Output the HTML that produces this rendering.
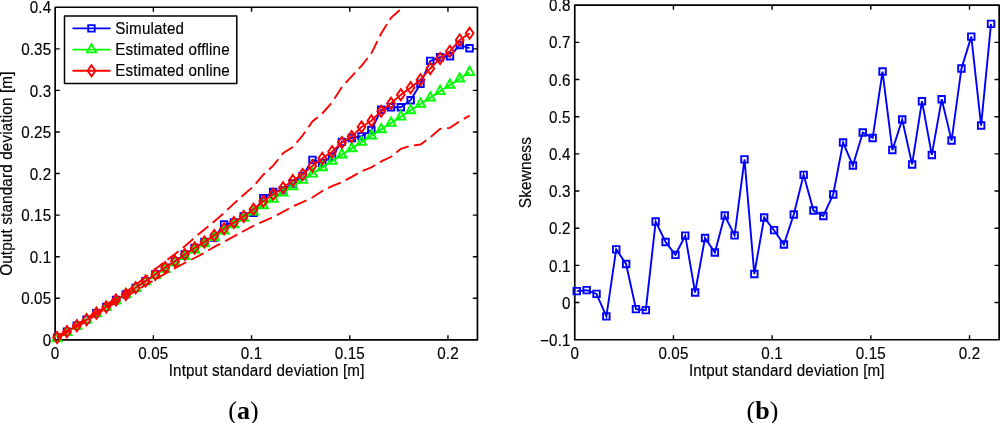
<!DOCTYPE html>
<html><head><meta charset="utf-8"><title>Figure</title>
<style>html,body{margin:0;padding:0;background:#fff}svg{display:block}</style></head>
<body>
<svg width="1000" height="423" viewBox="0 0 1000 423">
<rect width="1000" height="423" fill="#fff"/>
<defs><clipPath id="cl"><rect x="55.15" y="7.27" width="422.31" height="332.59"/></clipPath></defs>
<rect x="55.15" y="7.27" width="422.31" height="332.59" fill="none" stroke="#000" stroke-width="1.7" stroke-linejoin="round"/>
<path d="M153.35 339.86v-4.6M153.35 7.27v4.6M251.55 339.86v-4.6M251.55 7.27v4.6M349.75 339.86v-4.6M349.75 7.27v4.6M447.95 339.86v-4.6M447.95 7.27v4.6M55.15 298.29h4.6M477.46 298.29h-4.6M55.15 256.71h4.6M477.46 256.71h-4.6M55.15 215.14h4.6M477.46 215.14h-4.6M55.15 173.56h4.6M477.46 173.56h-4.6M55.15 131.99h4.6M477.46 131.99h-4.6M55.15 90.42h4.6M477.46 90.42h-4.6M55.15 48.84h4.6M477.46 48.84h-4.6" stroke="#000" stroke-width="1.4" fill="none"/>
<rect x="574.76" y="5.2" width="424.39" height="334.54" fill="none" stroke="#000" stroke-width="1.7" stroke-linejoin="round"/>
<path d="M673.45 339.74v-4.6M673.45 5.2v4.6M772.14 339.74v-4.6M772.14 5.2v4.6M870.83 339.74v-4.6M870.83 5.2v4.6M969.52 339.74v-4.6M969.52 5.2v4.6M574.76 302.57h4.6M999.15 302.57h-4.6M574.76 265.40h4.6M999.15 265.40h-4.6M574.76 228.23h4.6M999.15 228.23h-4.6M574.76 191.06h4.6M999.15 191.06h-4.6M574.76 153.89h4.6M999.15 153.89h-4.6M574.76 116.71h4.6M999.15 116.71h-4.6M574.76 79.54h4.6M999.15 79.54h-4.6M574.76 42.37h4.6M999.15 42.37h-4.6" stroke="#000" stroke-width="1.4" fill="none"/>
<g fill="none" stroke-width="1.9" stroke-linejoin="miter">
<path d="M57.1 337.6L66.9 331.7L76.8 325.7L86.6 319.7L96.4 313.2L106.2 306.9L116.0 300.0L125.9 294.4L135.7 287.8L145.5 281.1L155.3 274.5L165.1 267.6L175.0 261.3L184.8 254.6L194.6 248.0L204.4 241.9L214.2 237.4L224.1 224.6L233.9 222.6L243.7 216.4L253.5 212.8L263.3 198.2L273.2 191.9L283.0 190.2L292.8 183.6L302.6 175.9L312.4 159.8L322.3 163.0L332.1 156.4L341.9 141.8L351.7 138.0L361.5 136.3L371.4 130.1L381.2 109.8L391.0 107.3L400.8 107.3L410.6 100.2L420.5 83.8L430.3 60.9L440.1 57.3L449.9 56.2L459.7 45.0L469.6 48.2" stroke="#00f" clip-path="url(#cl)"/>
<path d="M53.9 334.4h6.5v6.5h-6.5zM63.7 328.4h6.5v6.5h-6.5zM73.5 322.4h6.5v6.5h-6.5zM83.3 316.4h6.5v6.5h-6.5zM93.1 309.9h6.5v6.5h-6.5zM103.0 303.6h6.5v6.5h-6.5zM112.8 296.8h6.5v6.5h-6.5zM122.6 291.1h6.5v6.5h-6.5zM132.4 284.6h6.5v6.5h-6.5zM142.2 277.9h6.5v6.5h-6.5zM152.1 271.2h6.5v6.5h-6.5zM161.9 264.4h6.5v6.5h-6.5zM171.7 258.1h6.5v6.5h-6.5zM181.5 251.3h6.5v6.5h-6.5zM191.3 244.8h6.5v6.5h-6.5zM201.2 238.7h6.5v6.5h-6.5zM211.0 234.2h6.5v6.5h-6.5zM220.8 221.3h6.5v6.5h-6.5zM230.6 219.3h6.5v6.5h-6.5zM240.4 213.2h6.5v6.5h-6.5zM250.3 209.6h6.5v6.5h-6.5zM260.1 194.9h6.5v6.5h-6.5zM269.9 188.7h6.5v6.5h-6.5zM279.7 186.9h6.5v6.5h-6.5zM289.5 180.3h6.5v6.5h-6.5zM299.4 172.7h6.5v6.5h-6.5zM309.2 156.6h6.5v6.5h-6.5zM319.0 159.8h6.5v6.5h-6.5zM328.8 153.2h6.5v6.5h-6.5zM338.6 138.6h6.5v6.5h-6.5zM348.5 134.8h6.5v6.5h-6.5zM358.3 133.1h6.5v6.5h-6.5zM368.1 126.8h6.5v6.5h-6.5zM377.9 106.5h6.5v6.5h-6.5zM387.7 104.0h6.5v6.5h-6.5zM397.6 104.0h6.5v6.5h-6.5zM407.4 97.0h6.5v6.5h-6.5zM417.2 80.5h6.5v6.5h-6.5zM427.0 57.6h6.5v6.5h-6.5zM436.8 54.0h6.5v6.5h-6.5zM446.7 53.0h6.5v6.5h-6.5zM456.5 41.8h6.5v6.5h-6.5zM466.3 45.0h6.5v6.5h-6.5z" stroke="#00f"/>
<path d="M57.1 338.6L66.9 332.3L76.8 325.9L86.6 319.6L96.4 313.2L106.2 306.9L116.0 300.6L125.9 294.2L135.7 287.9L145.5 281.5L155.3 275.2L165.1 268.9L175.0 262.5L184.8 256.2L194.6 249.8L204.4 243.5L214.2 237.2L224.1 230.8L233.9 224.5L243.7 218.1L253.5 211.8L263.3 205.5L273.2 199.1L283.0 192.8L292.8 186.4L302.6 180.1L312.4 173.8L322.3 167.4L332.1 161.1L341.9 154.7L351.7 148.4L361.5 142.1L371.4 135.7L381.2 129.4L391.0 123.0L400.8 116.7L410.6 110.4L420.5 104.0L430.3 97.7L440.1 91.3L449.9 85.0L459.7 78.7L469.6 72.3" stroke="#0f0" clip-path="url(#cl)"/>
<path d="M57.1 333.1l4.6 8.3h-9.2zM66.9 326.8l4.6 8.3h-9.2zM76.8 320.4l4.6 8.3h-9.2zM86.6 314.1l4.6 8.3h-9.2zM96.4 307.7l4.6 8.3h-9.2zM106.2 301.4l4.6 8.3h-9.2zM116.0 295.1l4.6 8.3h-9.2zM125.9 288.7l4.6 8.3h-9.2zM135.7 282.4l4.6 8.3h-9.2zM145.5 276.0l4.6 8.3h-9.2zM155.3 269.7l4.6 8.3h-9.2zM165.1 263.4l4.6 8.3h-9.2zM175.0 257.0l4.6 8.3h-9.2zM184.8 250.7l4.6 8.3h-9.2zM194.6 244.3l4.6 8.3h-9.2zM204.4 238.0l4.6 8.3h-9.2zM214.2 231.7l4.6 8.3h-9.2zM224.1 225.3l4.6 8.3h-9.2zM233.9 219.0l4.6 8.3h-9.2zM243.7 212.6l4.6 8.3h-9.2zM253.5 206.3l4.6 8.3h-9.2zM263.3 200.0l4.6 8.3h-9.2zM273.2 193.6l4.6 8.3h-9.2zM283.0 187.3l4.6 8.3h-9.2zM292.8 180.9l4.6 8.3h-9.2zM302.6 174.6l4.6 8.3h-9.2zM312.4 168.3l4.6 8.3h-9.2zM322.3 161.9l4.6 8.3h-9.2zM332.1 155.6l4.6 8.3h-9.2zM341.9 149.2l4.6 8.3h-9.2zM351.7 142.9l4.6 8.3h-9.2zM361.5 136.6l4.6 8.3h-9.2zM371.4 130.2l4.6 8.3h-9.2zM381.2 123.9l4.6 8.3h-9.2zM391.0 117.5l4.6 8.3h-9.2zM400.8 111.2l4.6 8.3h-9.2zM410.6 104.9l4.6 8.3h-9.2zM420.5 98.5l4.6 8.3h-9.2zM430.3 92.2l4.6 8.3h-9.2zM440.1 85.8l4.6 8.3h-9.2zM449.9 79.5l4.6 8.3h-9.2zM459.7 73.2l4.6 8.3h-9.2zM469.6 66.8l4.6 8.3h-9.2z" stroke="#0f0"/>
<path d="M57.1 337.6L66.9 331.7L76.8 325.7L86.6 319.7L96.4 313.2L106.2 306.9L116.0 300.0L125.9 294.4L135.7 287.8L145.5 281.1L155.3 274.5L165.1 267.6L175.0 261.3L184.8 254.6L194.6 248.0L204.4 241.9L214.2 235.4L224.1 228.8L233.9 222.6L243.7 216.4L253.5 209.2L263.3 201.2L273.2 194.2L283.0 187.7L292.8 180.6L302.6 174.4L312.4 165.9L322.3 158.3L332.1 151.7L341.9 142.5L351.7 136.6L361.5 127.0L371.4 120.7L381.2 111.3L391.0 103.2L400.8 94.7L410.6 87.7L420.5 79.8L430.3 68.5L440.1 58.4L449.9 51.3L459.7 39.9L469.6 33.2" stroke="#f00" clip-path="url(#cl)"/>
<path d="M57.1 332.0l3.9 5.6l-3.9 5.6l-3.9 -5.6zM66.9 326.1l3.9 5.6l-3.9 5.6l-3.9 -5.6zM76.8 320.1l3.9 5.6l-3.9 5.6l-3.9 -5.6zM86.6 314.1l3.9 5.6l-3.9 5.6l-3.9 -5.6zM96.4 307.6l3.9 5.6l-3.9 5.6l-3.9 -5.6zM106.2 301.3l3.9 5.6l-3.9 5.6l-3.9 -5.6zM116.0 294.4l3.9 5.6l-3.9 5.6l-3.9 -5.6zM125.9 288.8l3.9 5.6l-3.9 5.6l-3.9 -5.6zM135.7 282.2l3.9 5.6l-3.9 5.6l-3.9 -5.6zM145.5 275.5l3.9 5.6l-3.9 5.6l-3.9 -5.6zM155.3 268.9l3.9 5.6l-3.9 5.6l-3.9 -5.6zM165.1 262.0l3.9 5.6l-3.9 5.6l-3.9 -5.6zM175.0 255.7l3.9 5.6l-3.9 5.6l-3.9 -5.6zM184.8 249.0l3.9 5.6l-3.9 5.6l-3.9 -5.6zM194.6 242.4l3.9 5.6l-3.9 5.6l-3.9 -5.6zM204.4 236.3l3.9 5.6l-3.9 5.6l-3.9 -5.6zM214.2 229.8l3.9 5.6l-3.9 5.6l-3.9 -5.6zM224.1 223.2l3.9 5.6l-3.9 5.6l-3.9 -5.6zM233.9 217.0l3.9 5.6l-3.9 5.6l-3.9 -5.6zM243.7 210.8l3.9 5.6l-3.9 5.6l-3.9 -5.6zM253.5 203.6l3.9 5.6l-3.9 5.6l-3.9 -5.6zM263.3 195.6l3.9 5.6l-3.9 5.6l-3.9 -5.6zM273.2 188.6l3.9 5.6l-3.9 5.6l-3.9 -5.6zM283.0 182.1l3.9 5.6l-3.9 5.6l-3.9 -5.6zM292.8 175.0l3.9 5.6l-3.9 5.6l-3.9 -5.6zM302.6 168.8l3.9 5.6l-3.9 5.6l-3.9 -5.6zM312.4 160.3l3.9 5.6l-3.9 5.6l-3.9 -5.6zM322.3 152.7l3.9 5.6l-3.9 5.6l-3.9 -5.6zM332.1 146.1l3.9 5.6l-3.9 5.6l-3.9 -5.6zM341.9 136.9l3.9 5.6l-3.9 5.6l-3.9 -5.6zM351.7 131.0l3.9 5.6l-3.9 5.6l-3.9 -5.6zM361.5 121.4l3.9 5.6l-3.9 5.6l-3.9 -5.6zM371.4 115.1l3.9 5.6l-3.9 5.6l-3.9 -5.6zM381.2 105.7l3.9 5.6l-3.9 5.6l-3.9 -5.6zM391.0 97.6l3.9 5.6l-3.9 5.6l-3.9 -5.6zM400.8 89.1l3.9 5.6l-3.9 5.6l-3.9 -5.6zM410.6 82.1l3.9 5.6l-3.9 5.6l-3.9 -5.6zM420.5 74.2l3.9 5.6l-3.9 5.6l-3.9 -5.6zM430.3 62.9l3.9 5.6l-3.9 5.6l-3.9 -5.6zM440.1 52.8l3.9 5.6l-3.9 5.6l-3.9 -5.6zM449.9 45.7l3.9 5.6l-3.9 5.6l-3.9 -5.6zM459.7 34.3l3.9 5.6l-3.9 5.6l-3.9 -5.6zM469.6 27.6l3.9 5.6l-3.9 5.6l-3.9 -5.6z" stroke="#f00"/>
<path d="M57.1 336.6L66.9 330.6L76.8 324.5L86.6 318.3L96.4 311.7L106.2 305.1L116.0 297.9L125.9 291.9L135.7 284.8L145.5 277.1L155.3 269.2L165.1 261.4L175.0 254.0L184.8 246.2L194.6 237.6L204.4 229.4L214.2 221.5L224.1 212.8L233.9 203.6L243.7 194.8L253.5 186.3L263.3 174.7L273.2 165.7L283.0 153.3L292.8 147.0L302.6 135.5L312.4 121.5L322.3 113.5L332.1 102.3L341.9 87.0L351.7 76.3L361.5 65.8L371.4 53.3L381.2 33.5L391.0 17.8L400.8 9.0L410.6 -1.0" stroke="#f00" clip-path="url(#cl)" stroke-dasharray="13.89 5.54" stroke-dashoffset="-18.16"/>
<path d="M57.1 338.6L66.9 332.8L76.8 326.9L86.6 321.1L96.4 314.7L106.2 308.6L116.0 302.1L125.9 296.9L135.7 290.8L145.5 285.1L155.3 279.5L165.1 273.6L175.0 268.2L184.8 263.0L194.6 258.0L204.4 252.8L214.2 246.9L224.1 241.8L233.9 236.4L243.7 231.0L253.5 225.8L263.3 221.4L273.2 217.0L283.0 211.9L292.8 206.3L302.6 202.2L312.4 197.5L322.3 191.0L332.1 186.2L341.9 182.1L351.7 176.9L361.5 171.3L371.4 167.3L381.2 161.4L391.0 156.8L400.8 148.8L410.6 145.8L420.5 144.5L430.3 137.3L440.1 128.9L449.9 127.9L459.7 121.2L469.6 115.6" stroke="#f00" clip-path="url(#cl)" stroke-dasharray="13.83 5.51" stroke-dashoffset="-0.89"/>
<path d="M576.8 291.1L586.7 290.2L596.5 293.9L606.4 316.4L616.2 249.3L626.1 264.0L636.0 309.1L645.8 310.2L655.7 221.6L665.6 242.0L675.4 254.8L685.3 235.7L695.1 292.5L705.0 238.0L714.9 252.6L724.7 215.5L734.6 235.3L744.5 159.3L754.3 274.0L764.2 217.6L774.0 230.2L783.9 244.5L793.8 214.4L803.6 174.8L813.5 210.5L823.3 215.9L833.2 194.4L843.1 142.6L852.9 165.5L862.8 132.6L872.7 137.9L882.5 71.6L892.4 150.1L902.2 119.6L912.1 164.4L922.0 101.2L931.8 154.9L941.7 99.3L951.6 140.6L961.4 68.6L971.3 36.6L981.1 125.6L991.0 23.8" stroke="#00f"/>
<path d="M573.5 287.9h6.5v6.5h-6.5zM583.4 286.9h6.5v6.5h-6.5zM593.3 290.6h6.5v6.5h-6.5zM603.1 313.1h6.5v6.5h-6.5zM613.0 246.1h6.5v6.5h-6.5zM622.9 260.8h6.5v6.5h-6.5zM632.7 305.9h6.5v6.5h-6.5zM642.6 306.9h6.5v6.5h-6.5zM652.4 218.3h6.5v6.5h-6.5zM662.3 238.8h6.5v6.5h-6.5zM672.2 251.6h6.5v6.5h-6.5zM682.0 232.4h6.5v6.5h-6.5zM691.9 289.2h6.5v6.5h-6.5zM701.8 234.8h6.5v6.5h-6.5zM711.6 249.3h6.5v6.5h-6.5zM721.5 212.2h6.5v6.5h-6.5zM731.3 232.1h6.5v6.5h-6.5zM741.2 156.1h6.5v6.5h-6.5zM751.1 270.8h6.5v6.5h-6.5zM760.9 214.3h6.5v6.5h-6.5zM770.8 226.9h6.5v6.5h-6.5zM780.7 241.2h6.5v6.5h-6.5zM790.5 211.2h6.5v6.5h-6.5zM800.4 171.6h6.5v6.5h-6.5zM810.2 207.2h6.5v6.5h-6.5zM820.1 212.7h6.5v6.5h-6.5zM830.0 191.2h6.5v6.5h-6.5zM839.8 139.3h6.5v6.5h-6.5zM849.7 162.2h6.5v6.5h-6.5zM859.5 129.3h6.5v6.5h-6.5zM869.4 134.7h6.5v6.5h-6.5zM879.3 68.3h6.5v6.5h-6.5zM889.1 146.8h6.5v6.5h-6.5zM899.0 116.3h6.5v6.5h-6.5zM908.9 161.2h6.5v6.5h-6.5zM918.7 98.0h6.5v6.5h-6.5zM928.6 151.7h6.5v6.5h-6.5zM938.4 96.0h6.5v6.5h-6.5zM948.3 137.3h6.5v6.5h-6.5zM958.2 65.3h6.5v6.5h-6.5zM968.0 33.4h6.5v6.5h-6.5zM977.9 122.3h6.5v6.5h-6.5zM987.8 20.6h6.5v6.5h-6.5z" stroke="#00f"/>
</g>
<rect x="64.5" y="15.9" width="172.3" height="67.5" fill="#fff" stroke="#000" stroke-width="1.5" stroke-linejoin="round"/>
<path d="M72.5 28.4h38" stroke="#00f" stroke-width="1.9" fill="none"/>
<path d="M88.2 25.1h6.5v6.5h-6.5z" stroke="#00f" stroke-width="1.9" fill="none"/>
<path d="M72.5 49.6h38" stroke="#0f0" stroke-width="1.9" fill="none"/>
<path d="M91.5 44.1l4.6 8.3h-9.2z" stroke="#0f0" stroke-width="1.9" fill="none"/>
<path d="M72.5 70.8h38" stroke="#f00" stroke-width="1.9" fill="none"/>
<path d="M91.5 65.2l3.9 5.6l-3.9 5.6l-3.9 -5.6z" stroke="#f00" stroke-width="1.9" fill="none"/>
<g font-family="'Liberation Sans', Arial, Helvetica, sans-serif" font-size="15.2" letter-spacing="0.14" fill="#000" stroke="#000" stroke-width="0.15">
<text transform="translate(55.15 358.80) scale(1.0 1.07)" text-anchor="middle">0</text>
<text transform="translate(153.35 358.80) scale(1.0 1.07)" text-anchor="middle">0.05</text>
<text transform="translate(251.55 358.80) scale(1.0 1.07)" text-anchor="middle">0.1</text>
<text transform="translate(349.75 358.80) scale(1.0 1.07)" text-anchor="middle">0.15</text>
<text transform="translate(447.95 358.80) scale(1.0 1.07)" text-anchor="middle">0.2</text>
<text transform="translate(574.76 358.80) scale(1.0 1.07)" text-anchor="middle">0</text>
<text transform="translate(673.45 358.80) scale(1.0 1.07)" text-anchor="middle">0.05</text>
<text transform="translate(772.14 358.80) scale(1.0 1.07)" text-anchor="middle">0.1</text>
<text transform="translate(870.83 358.80) scale(1.0 1.07)" text-anchor="middle">0.15</text>
<text transform="translate(969.52 358.80) scale(1.0 1.07)" text-anchor="middle">0.2</text>
<text transform="translate(51.30 345.96) scale(1.0 1.07)" text-anchor="end">0</text>
<text transform="translate(51.30 304.39) scale(1.0 1.07)" text-anchor="end">0.05</text>
<text transform="translate(51.30 262.81) scale(1.0 1.07)" text-anchor="end">0.1</text>
<text transform="translate(51.30 221.24) scale(1.0 1.07)" text-anchor="end">0.15</text>
<text transform="translate(51.30 179.66) scale(1.0 1.07)" text-anchor="end">0.2</text>
<text transform="translate(51.30 138.09) scale(1.0 1.07)" text-anchor="end">0.25</text>
<text transform="translate(51.30 96.52) scale(1.0 1.07)" text-anchor="end">0.3</text>
<text transform="translate(51.30 54.94) scale(1.0 1.07)" text-anchor="end">0.35</text>
<text transform="translate(51.30 13.37) scale(1.0 1.07)" text-anchor="end">0.4</text>
<text transform="translate(570.60 345.84) scale(1.0 1.07)" text-anchor="end">−0.1</text>
<text transform="translate(570.60 308.67) scale(1.0 1.07)" text-anchor="end">0</text>
<text transform="translate(570.60 271.50) scale(1.0 1.07)" text-anchor="end">0.1</text>
<text transform="translate(570.60 234.33) scale(1.0 1.07)" text-anchor="end">0.2</text>
<text transform="translate(570.60 197.16) scale(1.0 1.07)" text-anchor="end">0.3</text>
<text transform="translate(570.60 159.99) scale(1.0 1.07)" text-anchor="end">0.4</text>
<text transform="translate(570.60 122.81) scale(1.0 1.07)" text-anchor="end">0.5</text>
<text transform="translate(570.60 85.64) scale(1.0 1.07)" text-anchor="end">0.6</text>
<text transform="translate(570.60 48.47) scale(1.0 1.07)" text-anchor="end">0.7</text>
<text transform="translate(570.60 11.30) scale(1.0 1.07)" text-anchor="end">0.8</text>
<text transform="translate(266.60 375.50) scale(1.0 1.07)" text-anchor="middle">Intput standard deviation [m]</text>
<text transform="translate(786.80 375.50) scale(1.0 1.07)" text-anchor="middle">Intput standard deviation [m]</text>
<text transform="translate(11.80 173.65) rotate(-90) scale(1.005 1.07)" text-anchor="middle">Output standard deviation [m]</text>
<text transform="translate(530.80 172.60) rotate(-90) scale(1.013 1.07)" text-anchor="middle">Skewness</text>
<text transform="translate(115.30 33.90) scale(1.0 1.07)">Simulated</text>
<text transform="translate(115.30 55.10) scale(1.0 1.07)">Estimated offline</text>
<text transform="translate(115.30 76.30) scale(1.0 1.07)">Estimated online</text>
</g>
<g font-family="'Liberation Serif', 'Times New Roman', serif" font-size="26" fill="#000" text-anchor="middle">
<text x="243.4" y="418.6">(<tspan font-weight="bold">a</tspan>)</text>
<text x="762.5" y="418.6">(<tspan font-weight="bold">b</tspan>)</text>
</g>
</svg>
</body></html>
